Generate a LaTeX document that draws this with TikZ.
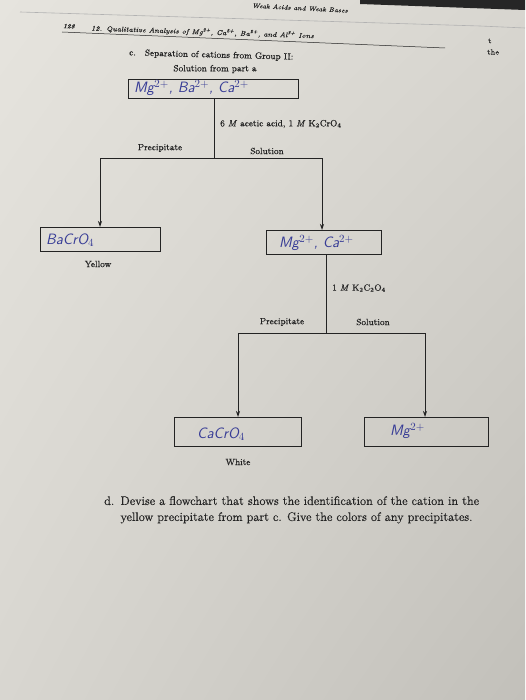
\documentclass[tikz,border=0pt]{standalone}
\usepackage{fontspec}
\setmainfont{Latin Modern Roman}[FakeBold=0.5]
\usetikzlibrary{arrows.meta,shadings}
\definecolor{paper1}{RGB}{230,228,222}
\definecolor{paper2}{RGB}{216,214,208}
\definecolor{paper3}{RGB}{194,192,186}
\definecolor{ink}{RGB}{35,35,35}
\definecolor{pen}{RGB}{55,60,150}
\begin{document}
\begin{tikzpicture}[x=1pt,y=-1pt,
  every node/.style={text=ink, inner sep=1pt},
  box/.style={draw=ink, line width=0.8pt, minimum height=24pt, anchor=north west, inner sep=0pt},
  hand/.style={text=pen, font=\sffamily\slshape\fontsize{15}{15}\selectfont},
  lab/.style={font=\fontsize{9}{10}\selectfont},
  conn/.style={draw=ink, line width=0.8pt},
  arr/.style={conn, -{Stealth[length=6pt,width=4pt]}}]
\useasboundingbox (0,0) rectangle (525,700);
\shade[upper left=paper1, upper right=paper2, lower left=paper2, lower right=paper3] (0,0) rectangle (525,700);
\fill[black!85] (360,0) -- (525,0) -- (525,10) -- (360,4) -- cycle;
\draw[black!30, line width=0.6pt] (20,12) -- (480,26) -- (525,28);
\node[font=\itshape\fontsize{6.5}{7}\selectfont, rotate=-3] (hdr0) at (300,8) {Weak Acids and Weak Bases};
% header
\node[anchor=west, font=\bfseries\itshape\fontsize{6.5}{7}\selectfont, rotate=-2] (pg) at (62,26) {128};
\node[anchor=west, font=\itshape\fontsize{7}{8}\selectfont, rotate=-2] (hdr) at (90,28) {12. Qualitative Analysis of Mg\textsuperscript{2+}, Ca\textsuperscript{2+}, Ba\textsuperscript{2+}, and Al\textsuperscript{3+} Ions};
\draw[ink, line width=0.5pt] (62,32) -- (445,48);
\node[anchor=west, font=\fontsize{7.5}{8}\selectfont] (t1) at (487,41) {t};
\node[anchor=west, font=\fontsize{7.5}{8}\selectfont] (t2) at (486,52) {the};
\node[anchor=west, font=\fontsize{9}{10}\selectfont, rotate=-1.5] (c) at (128,53) {c.\quad Separation of cations from Group II:};
% flowchart
\node[lab] (spa) at (215,69) {Solution from part a};
\node[box, minimum width=170pt, minimum height=19pt] (top) at (128,79) {};
\node[hand, anchor=west] (topt) at (133,88) {Mg$^{2+}$, Ba$^{2+}$, Ca$^{2+}$};
\coordinate (j1) at (214,158);
\draw[conn] (214,98) -- (j1);
\node[lab, anchor=west] (r1) at (219,124) {6 \textit{M} acetic acid, 1 \textit{M} K\textsubscript{2}CrO\textsubscript{4}};
\node[lab] (p1) at (160,148) {Precipitate};
\node[lab] (s1) at (267,151) {Solution};
\node[box, minimum width=120pt] (bac) at (40,227) {};
\node[hand, anchor=west] (bact) at (45,240) {BaCrO$_4$};
\node[lab] (y) at (98,264) {Yellow};
\node[box, minimum width=115pt] (mc) at (266,230) {};
\node[hand, anchor=west] (mct) at (278,243) {Mg$^{2+}$, Ca$^{2+}$};
\draw[arr] (j1) -| (100,227);
\draw[arr] (j1) -| (322,230);
\coordinate (j2) at (326,333);
\draw[conn] (326,254) -- (j2);
\node[lab, anchor=west] (r2) at (331,288) {1 \textit{M} K\textsubscript{2}C\textsubscript{2}O\textsubscript{4}};
\node[lab] (p2) at (282,322) {Precipitate};
\node[lab] (s2) at (373,322) {Solution};
\node[box, minimum width=127pt, minimum height=29pt] (cac) at (174,417) {};
\node[hand, anchor=west] (cact) at (196,434) {CaCrO$_4$};
\node[lab] (w) at (238,462) {White};
\node[box, minimum width=124pt, minimum height=29pt] (mg) at (364,417) {};
\node[hand, anchor=west] (mgt) at (389,431) {Mg$^{2+}$};
\draw[arr] (j2) -| (238,417);
\draw[arr] (j2) -| (425,417);
% part d
\node[anchor=north west, font=\fontsize{12.4}{16}\selectfont, align=left] (d) at (103,495)
  {d.\enspace Devise a flowchart that shows the identification of the cation in the\\
   \phantom{d.\enspace}yellow precipitate from part c. Give the colors of any precipitates.};
\end{tikzpicture}
\end{document}
